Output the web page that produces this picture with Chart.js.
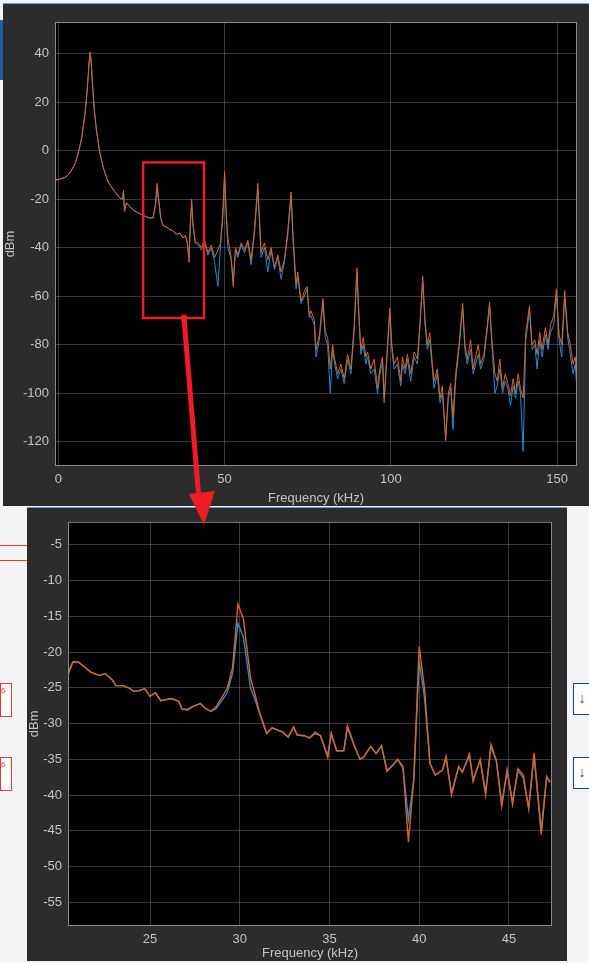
<!DOCTYPE html>
<html lang="en">
<head>
<meta charset="UTF-8">
<title>Spectrum</title>
<script src="https://cdn.jsdelivr.net/npm/chart.js"></script>
<style>
  body { margin:0; width:589px; height:963px; background:#f4f4f4; position:relative; overflow:hidden; font-family:"Liberation Sans", Arial, sans-serif; }
  .panel { position:absolute; background:#2c2c2c; }
  .deco { position:absolute; }
  #overlay { position:absolute; left:0; top:0; pointer-events:none; }
</style>
</head>
<body>
<!-- background fragments around the scope windows -->
<div class="deco" style="left:0;top:20px;width:6px;height:60px;background:#1e5fa8"></div>
<div class="deco" style="left:0;top:545px;width:28px;height:1px;background:#e33"></div>
<div class="deco" style="left:0;top:560px;width:28px;height:1px;background:#e33"></div>
<div class="deco" style="left:0;top:683px;width:10px;height:32px;border:1px solid #e33;background:#fff;color:#e33;font-size:8px;line-height:14px">6</div>
<div class="deco" style="left:0;top:757px;width:10px;height:32px;border:1px solid #e33;background:#fff;color:#e33;font-size:8px;line-height:14px">6</div>
<div class="deco" style="left:573px;top:683px;width:16px;height:30px;border:1px solid #2233cc;background:#fff;color:#2233cc;font-size:14px;line-height:28px;text-align:center">&darr;</div>
<div class="deco" style="left:573px;top:757px;width:16px;height:30px;border:1px solid #2233cc;background:#fff;color:#2233cc;font-size:14px;line-height:28px;text-align:center">&darr;</div>

<div class="panel" style="left:3px;top:3px;width:586px;height:502px;border-top:1px solid #6a9ad0">
  <canvas id="topChart" width="586" height="502"></canvas>
</div>
<div class="panel" style="left:27px;top:507px;width:540px;height:453px;border-top:1px solid #6a9ad0">
  <canvas id="zoomChart" width="540" height="453"></canvas>
</div>
<canvas id="overlay" width="589" height="963"></canvas>

<script>
// ---- full spectrum (top) ----
const topFreq = [-1,0,1,2,3,4,5,6,7,8,8.5,9,9.3,9.6,9.9,10.3,10.8,11.5,12.5,13.5,15,17,18.5,19.3,19.6,19.9,20.5,21.5,23,24.5,26,27.5,28.5,29.2,29.7,30.2,30.8,31.5,32.5,33.5,34.5,35.5,36.5,37.5,38.2,38.8,39.3,39.7,40.1,40.5,41.2,
  42,43,44,45,46,47,48,48.8,49.5,50,50.5,51,52,52.6,53.3,54,55,56,57,58,59,60,60.5,61,62,63,64,65,66,67,68,69,70,70.6,71.5,72,73,74,74.8,75.5,76,77,77.5,78.5,79.6,80.3,81,81.8,82.5,83,84,85,86,87,88,89,89.8,90.5,91,91.7,92.5,93,94,95,96,96.7,97.5,98,99,99.7,100.3,
  101,102,103,103.5,104.3,105,106,107,108,108.8,109.6,110.3,111,111.7,112.5,113,114,114.8,115.5,116.5,117.3,118,118.7,119.5,120.5,121.6,122.3,123,124,124.8,125.5,126.3,127,128,129,129.7,130.5,131.3,132,132.8,133.6,134.4,135.2,136,136.8,137.5,138.3,139,139.8,140.6,141.7,142.5,143.3,144,144.8,145.5,146.5,147.3,148,149,149.8,150.6,151.4,152.3,153.2,154,154.8,155.5,156];
const topOrange = [-12,-12,-11.5,-11,-10,-8,-5.5,-1,5,15,22,31,37,40.5,36,27,17,8,-1,-7,-13,-17,-19.5,-20,-16.5,-25,-21.5,-23,-25,-26,-27,-27.8,-27.5,-22,-13.5,-20,-27.5,-31,-31.5,-32.5,-33,-34.5,-34,-36,-35,-38,-46,-30,-20,-30,-38,
  -38,-40,-37,-42,-39,-44,-41,-38,-25,-8.6,-25,-36,-44,-56,-40,-43,-38,-41,-37,-45,-32,-13.5,-28,-42,-38,-45,-40,-48,-43,-50,-45,-33,-17,-35,-55,-50,-62,-58,-56,-68,-66,-70,-82,-76,-61,-75,-77,-90,-80,-85,-92,-88,-94,-84,-90,-72,-48.5,-70,-82,-77,-85,-83,-90,-86,-98,-90,-85,-102,-80,-65,-80,
  -88,-85,-95,-85,-90,-84,-92,-83,-86,-70,-51.8,-70,-80,-75,-88,-95,-90,-102,-97,-119.5,-100,-96,-110,-92,-80,-63,-80,-86,-78,-90,-85,-80,-88,-84,-72,-62.3,-80,-92,-95,-86,-98,-92,-96,-101,-94,-100,-92,-98,-102,-75,-64,-80,-78,-84,-75,-82,-73,-80,-72,-68,-57,-76,-80,-57.8,-75,-80,-88,-85,-96];
const topBlue = [-12,-12,-11.5,-11,-10,-8,-5.5,-1,5,15,22,31,37,40.5,36,27,17,8,-1,-7,-13,-17,-19.5,-20,-16.5,-25,-21.5,-23,-25,-26,-27,-27.8,-27.8,-23,-16,-21,-28,-31,-31.5,-32.5,-33,-34.5,-34,-36,-35,-38,-44,-31,-22,-31,-38,
  -39,-41,-38,-43,-40,-46,-56,-39,-27,-11,-27,-40,-45,-54,-41,-44,-39,-42,-38,-47,-34,-16,-30,-44,-40,-50,-41,-49,-44,-53,-46,-35,-19,-37,-57,-52,-63,-60,-57,-69,-68,-72,-85,-78,-63,-77,-80,-100,-82,-87,-94,-90,-96,-86,-92,-74,-50,-72,-84,-80,-88,-85,-92,-90,-100,-92,-87,-104,-82,-67,-82,
  -90,-88,-97,-88,-92,-86,-95,-85,-88,-72,-54,-72,-82,-78,-90,-98,-92,-104,-100,-118,-102,-98,-115,-95,-82,-65,-82,-88,-82,-92,-88,-84,-90,-86,-74,-64,-82,-100,-97,-90,-100,-95,-98,-105,-97,-102,-95,-100,-124,-78,-66,-82,-80,-90,-78,-85,-76,-82,-75,-72,-59,-78,-85,-60,-77,-84,-92,-88,-100];
const topXTicks = [0, 50, 100, 150];
const topYTicks = [-120, -100, -80, -60, -40, -20, 0, 20, 40];

// ---- zoomed view 20-47 kHz (bottom) ----
const zoomFreq = [20.4,20.7,21.0,21.4,21.7,22.2,22.5,22.9,23.1,23.5,23.8,24.1,24.4,24.7,25.0,25.3,25.6,26.2,26.6,26.8,27.1,27.4,27.8,28.1,28.4,28.7,29.3,29.6,29.9,30.2,30.6,30.9,31.1,31.5,31.8,32.4,32.7,33.0,33.2,33.6,33.9,34.2,34.5,34.9,35.1,35.4,35.8,36.0,36.4,36.7,36.9,37.3,37.6,37.9,38.2,38.5,38.8,39.1,39.4,39.7,40.0,40.3,40.6,40.9,41.3,41.5,41.8,42.2,42.4,42.8,43.0,43.4,43.7,44.0,44.3,44.6,44.9,45.2,45.5,45.8,46.1,46.4,46.8,47.1,47.3];
const zoomOrange = [-23.5,-21.4,-21.4,-22.2,-22.8,-23.3,-23.0,-23.9,-24.7,-24.7,-25.0,-25.5,-25.4,-25.1,-26.2,-25.7,-26.8,-26.5,-26.9,-28.0,-28.1,-27.6,-27.2,-27.9,-28.3,-27.6,-25.1,-22.2,-13.3,-15.3,-23.6,-26.4,-28.4,-31.4,-30.6,-31.2,-31.9,-30.5,-31.6,-31.7,-32.0,-31.2,-31.7,-34.7,-31.3,-33.8,-33.8,-30.3,-33.2,-35.0,-34.7,-33.2,-34.2,-33.1,-36.7,-35.9,-35.0,-36.0,-46.6,-37.6,-19.2,-25.2,-35.6,-37.2,-36.5,-34.6,-40.0,-36.0,-36.8,-34.2,-38.1,-35.0,-40.0,-32.9,-35.2,-41.6,-36.5,-41.3,-36.3,-37.2,-41.8,-34.1,-45.5,-37.4,-38.2];
const zoomBlue = [-23.0,-21.4,-21.4,-22.2,-22.8,-23.3,-23.0,-23.9,-24.7,-24.7,-25.0,-25.5,-25.4,-25.1,-26.2,-25.7,-26.8,-26.5,-26.9,-28.0,-28.0,-27.6,-27.2,-27.9,-28.3,-27.9,-25.7,-23.0,-16.0,-17.9,-25.0,-27.0,-28.6,-31.4,-30.6,-31.2,-31.9,-30.5,-31.6,-31.7,-32.0,-31.4,-31.7,-34.5,-31.5,-33.8,-33.8,-30.6,-33.2,-35.0,-34.7,-33.2,-34.2,-33.1,-36.5,-35.9,-35.0,-36.3,-43.4,-37.9,-21.3,-26.5,-35.6,-37.2,-36.5,-34.9,-39.7,-36.0,-36.8,-34.5,-37.8,-35.2,-39.6,-33.3,-35.2,-41.2,-36.6,-41.0,-36.6,-37.6,-42.0,-34.5,-45.0,-37.6,-38.2];
const zoomXTicks = [25, 30, 35, 40, 45];
const zoomYTicks = [-55, -50, -45, -40, -35, -30, -25, -20, -15, -10, -5];

const BLUE = '#1d8fd8';
const ORANGE = '#e0641e';
const TICK = '#c4c4c4';
const GRID = 'rgba(255,255,255,0.22)';

const blackArea = {
  id: 'blackArea',
  beforeDraw(chart) {
    const { ctx, chartArea: a } = chart;
    ctx.save();
    ctx.fillStyle = '#000';
    ctx.fillRect(a.left, a.top, a.right - a.left, a.bottom - a.top);
    ctx.restore();
  },
  afterDraw(chart) {
    const { ctx, chartArea: a } = chart;
    ctx.save();
    ctx.strokeStyle = '#8a8a8a';
    ctx.lineWidth = 1;
    ctx.strokeRect(a.left + 0.5, a.top + 0.5, a.right - a.left - 1, a.bottom - a.top - 1);
    ctx.restore();
  }
};

function pts(xs, ys) { return xs.map((x, i) => ({ x: x, y: ys[i] })); }

function makeChart(id, xs, orange, blue, xr, yr, xTicks, yTicks, pad, yw, xh, lw) {
  const fixTicks = list => scale => { scale.ticks = list.map(v => ({ value: v })); };
  return new Chart(document.getElementById(id), {
    type: 'line',
    data: {
      datasets: [
        { data: pts(xs, orange), borderColor: ORANGE, borderWidth: lw, pointRadius: 0, order: 0 },
        { data: pts(xs, blue), borderColor: BLUE, borderWidth: lw, pointRadius: 0, order: 1 }
      ]
    },
    options: {
      responsive: false,
      animation: false,
      layout: { padding: pad },
      plugins: { legend: { display: false }, tooltip: { enabled: false } },
      scales: {
        x: {
          type: 'linear', min: xr[0], max: xr[1],
          afterBuildTicks: fixTicks(xTicks),
          afterFit: s => { s.height = xh; },
          grid: { color: GRID, drawTicks: false },
          border: { display: false },
          ticks: { color: TICK, font: { size: 13, family: 'Liberation Sans' }, padding: 6, maxRotation: 0 },
          title: { display: true, text: 'Frequency (kHz)', color: TICK, font: { size: 13, family: 'Liberation Sans' }, padding: 0 }
        },
        y: {
          min: yr[0], max: yr[1],
          afterBuildTicks: fixTicks(yTicks),
          afterFit: s => { s.width = yw; },
          grid: { color: GRID, drawTicks: false },
          border: { display: false },
          ticks: { color: TICK, font: { size: 13, family: 'Liberation Sans' }, padding: 6 },
          title: { display: true, text: 'dBm', color: TICK, font: { size: 13, family: 'Liberation Sans' }, padding: 0 }
        }
      }
    },
    plugins: [blackArea]
  });
}

const topChart = makeChart('topChart', topFreq, topOrange, topBlue, [-1, 156], [-130, 53],
  topXTicks, topYTicks, { top: 18, right: 12, left: 0, bottom: 0 }, 52, 40, 1);
const zoomChart = makeChart('zoomChart', zoomFreq, zoomOrange, zoomBlue, [20.43, 47.4], [-58.3, -1.8],
  zoomXTicks, zoomYTicks, { top: 8, right: 15, left: 0, bottom: 0 }, 41, 35, 1.4);

// red selection box on the top chart and arrow to the zoomed view
(function () {
  const xs = topChart.scales.x, ys = topChart.scales.y;
  const ox = 3, oy = 3;
  const x0 = xs.getPixelForValue(25.5) + ox, x1 = xs.getPixelForValue(43.8) + ox;
  const y0 = ys.getPixelForValue(-5.3) + oy, y1 = ys.getPixelForValue(-69.4) + oy;
  const ctx = document.getElementById('overlay').getContext('2d');
  ctx.strokeStyle = '#ee1c25';
  ctx.fillStyle = '#ee1c25';
  ctx.lineWidth = 2.5;
  ctx.strokeRect(x0, y0, x1 - x0, y1 - y0);
  ctx.beginPath();
  ctx.arc(184, y1, 3.5, 0, Math.PI * 2);
  ctx.fill();
  ctx.lineWidth = 5;
  ctx.beginPath();
  ctx.moveTo(184, y1);
  ctx.lineTo(199, 500);
  ctx.stroke();
  ctx.beginPath();
  ctx.moveTo(189, 494);
  ctx.lineTo(215, 491);
  ctx.lineTo(204, 525);
  ctx.closePath();
  ctx.fill();
})();
</script>
</body>
</html>
